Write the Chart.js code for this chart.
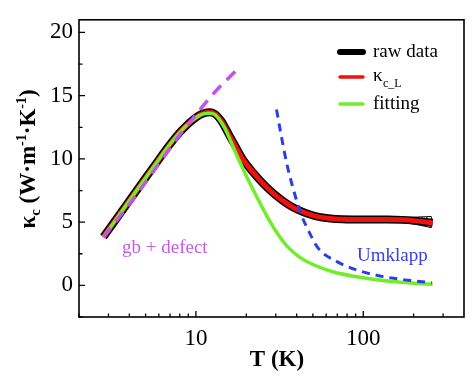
<!DOCTYPE html>
<html>
<head>
<meta charset="utf-8">
<script src="https://cdn.jsdelivr.net/npm/chart.js@4.4.1/dist/chart.umd.min.js"></script>
<style>
html, body { margin: 0; padding: 0; background: #fff; }
canvas { display: block; }
</style>
</head>
<body>
<canvas id="kappa" width="474" height="387"></canvas>
<script>
// ---- data ----
const tempK   = [2.8, 3.2, 3.6, 4.15, 5, 5.74, 6.5, 7.23, 8, 8.71, 9.5, 10.47, 11.2, 12.03, 13, 14, 15, 16, 17.4, 19, 21.9, 25, 28.9, 33, 38.2, 44, 50.4, 57, 63.5, 75, 90, 110, 140, 170, 200, 230, 260];
const rawData = [3.83, 4.9, 5.85, 7.0, 8.5, 9.6, 10.6, 11.4, 12.1, 12.6, 13.05, 13.45, 13.62, 13.68, 13.55, 13.1, 12.45, 11.75, 10.9, 10.0, 8.95, 8.1, 7.3, 6.7, 6.15, 5.78, 5.52, 5.37, 5.29, 5.23, 5.21, 5.2, 5.2, 5.18, 5.12, 5.03, 4.95];
const kappaL  = [3.83, 4.9, 5.85, 7.0, 8.5, 9.6, 10.6, 11.4, 12.1, 12.6, 13.05, 13.45, 13.62, 13.68, 13.55, 13.1, 12.45, 11.75, 10.9, 10.0, 8.95, 8.1, 7.3, 6.7, 6.15, 5.78, 5.52, 5.37, 5.29, 5.23, 5.21, 5.2, 5.2, 5.18, 5.12, 5.03, 4.95];

// error bars on the raw data at high T
const errT     = [150, 165, 180, 195, 210, 225, 240, 255];
const errUpper = [5.3, 5.33, 5.36, 5.38, 5.4, 5.42, 5.43, 5.45];
const errLower = [5.1, 5.02, 4.95, 4.87, 4.8, 4.72, 4.64, 4.56];

const fitT    = [2.8, 3.2, 3.6, 4.15, 5, 5.74, 6.5, 7.23, 8, 8.71, 9.5, 10.47, 11.2, 12.03, 13, 14, 15, 16, 17.4, 20, 23, 26.5, 30, 35, 42, 50, 65, 100, 150, 200, 260];
const fitting = [3.83, 4.9, 5.85, 7.0, 8.5, 9.6, 10.6, 11.4, 12.1, 12.6, 13.05, 13.42, 13.58, 13.62, 13.5, 13.0, 12.35, 11.5, 10.4, 8.65, 7.05, 5.5, 4.3, 3.1, 2.2, 1.65, 1.1, 0.6, 0.3, 0.17, 0.08];

const umklappT = [30.3, 32.5, 34.8, 38.2, 42.7, 46, 53.7, 69.3, 90, 120, 170, 257];
const umklapp  = [13.9, 11.7, 9.7, 7.6, 5.55, 4.6, 2.95, 1.9, 1.25, 0.8, 0.47, 0.2];

const gbT      = [2.8, 4.15, 6, 8, 10, 13, 17.4];
const gbDefect = [3.8, 6.7, 9.6, 11.9, 13.5, 15.3, 17.0];

const xMajorTicks = [10, 100];
const xMinorTicks = [2, 3, 4, 5, 6, 7, 8, 9, 20, 30, 40, 50, 60, 70, 80, 90, 200, 300];
const yMajorTicks = [0, 5, 10, 15, 20];
const yMinorTicks = [-2.5, 2.5, 7.5, 12.5, 17.5];

const serif = '"Liberation Serif", "Times New Roman", serif';

function pts(xs, ys) {
    return xs.map((t, i) => ({ x: t, y: ys[i] }));
}

// error bar stems, drawn under the red curve
const errorBars = {
    id: 'errorBars',
    beforeDatasetsDraw(chart) {
        const { ctx, scales: { x, y } } = chart;
        ctx.save();
        ctx.strokeStyle = '#000';
        ctx.lineWidth = 1;
        ctx.beginPath();
        errT.forEach((t, i) => {
            const px = x.getPixelForValue(t);
            ctx.moveTo(px, y.getPixelForValue(errUpper[i]));
            ctx.lineTo(px, y.getPixelForValue(errLower[i]));
        });
        ctx.stroke();
        ctx.restore();
    }
};

// frame, inward ticks, axis titles, legend, labels
const extras = {
    id: 'extras',
    afterDraw(chart) {
        const { ctx, chartArea: a, scales: { x, y } } = chart;
        ctx.save();

        ctx.strokeStyle = '#000';
        ctx.lineWidth = 1.6;
        ctx.strokeRect(a.left, a.top, a.right - a.left, a.bottom - a.top);

        ctx.lineWidth = 1.3;
        ctx.beginPath();
        xMajorTicks.forEach(v => { const p = x.getPixelForValue(v); ctx.moveTo(p, a.bottom); ctx.lineTo(p, a.bottom - 6); });
        xMinorTicks.forEach(v => { const p = x.getPixelForValue(v); ctx.moveTo(p, a.bottom); ctx.lineTo(p, a.bottom - 3.5); });
        yMajorTicks.forEach(v => { const p = y.getPixelForValue(v); ctx.moveTo(a.left, p); ctx.lineTo(a.left + 6, p); });
        yMinorTicks.forEach(v => { const p = y.getPixelForValue(v); ctx.moveTo(a.left, p); ctx.lineTo(a.left + 3.5, p); });
        ctx.stroke();

        // x title
        ctx.fillStyle = '#000';
        ctx.font = 'bold 23px ' + serif;
        ctx.textAlign = 'center';
        ctx.textBaseline = 'middle';
        ctx.fillText('T (K)', 277, 360);

        // y title, rotated, with sub/superscripts
        const parts = [
            { t: 'κ', s: 23, dy: 0 },
            { t: 'c', s: 15, dy: 5 },
            { t: ' (W·m', s: 23, dy: 0 },
            { t: '-1', s: 14, dy: -9 },
            { t: '·K', s: 23, dy: 0 },
            { t: '-1', s: 14, dy: -9 },
            { t: ')', s: 23, dy: 0 }
        ];
        ctx.save();
        ctx.translate(27, 159);
        ctx.rotate(-Math.PI / 2);
        ctx.textAlign = 'left';
        ctx.textBaseline = 'alphabetic';
        let total = 0;
        parts.forEach(p => { ctx.font = 'bold ' + p.s + 'px ' + serif; p.w = ctx.measureText(p.t).width; total += p.w; });
        let cx = -total / 2;
        parts.forEach(p => {
            ctx.font = 'bold ' + p.s + 'px ' + serif;
            ctx.fillText(p.t, cx, 8 + p.dy);
            cx += p.w;
        });
        ctx.restore();

        // legend
        const rows = [52, 77, 104];
        ctx.lineCap = 'round';
        chart.data.datasets.slice(0, 3).forEach((ds, i) => {
            ctx.strokeStyle = ds.borderColor;
            ctx.lineWidth = i === 0 ? 6 : 3.5;
            ctx.beginPath();
            ctx.moveTo(340, rows[i]);
            ctx.lineTo(363, rows[i]);
            ctx.stroke();
        });
        ctx.fillStyle = '#000';
        ctx.textAlign = 'left';
        ctx.textBaseline = 'middle';
        ctx.font = '19px ' + serif;
        ctx.fillText('raw data', 373, rows[0]);
        ctx.fillText('κ', 373, rows[1] - 1);
        ctx.font = '12px ' + serif;
        ctx.fillText('c_L', 383, rows[1] + 7);
        ctx.font = '19px ' + serif;
        ctx.fillText('fitting', 373, rows[2]);

        // curve labels
        ctx.font = '19px ' + serif;
        ctx.fillStyle = '#c65ce6';
        ctx.fillText('gb + defect', 122, 248);
        ctx.fillStyle = '#3a3ee0';
        ctx.fillText('Umklapp', 357, 256);

        ctx.restore();
    }
};

const ctx = document.getElementById('kappa');

new Chart(ctx, {
    type: 'line',
    data: {
        datasets: [{
            label: 'raw data',
            data: pts(tempK, rawData),
            borderColor: '#000000',
            borderWidth: 8,
            order: 5
        },
        {
            label: 'κc_L',
            data: pts(tempK, kappaL),
            borderColor: '#f01010',
            borderWidth: 5,
            order: 4
        },
        {
            label: 'fitting',
            data: pts(fitT, fitting),
            borderColor: '#70ee2a',
            borderWidth: 3.5,
            order: 3
        },
        {
            label: 'Umklapp',
            data: pts(umklappT, umklapp),
            borderColor: '#2a3ee8',
            borderWidth: 3,
            borderDash: [8, 6],
            order: 2
        },
        {
            label: 'gb + defect',
            data: pts(gbT, gbDefect),
            borderColor: '#c452e8',
            borderWidth: 3.5,
            borderDash: [12, 8],
            order: 1
        },
        {
            label: 'err upper',
            data: pts(errT, errUpper),
            borderColor: '#000000',
            borderWidth: 1,
            order: 6
        },
        {
            label: 'err lower',
            data: pts(errT, errLower),
            borderColor: '#000000',
            borderWidth: 1,
            order: 6
        }]
    },
    options: {
        responsive: false,
        animation: false,
        elements: {
            point: { radius: 0 },
            line: { cubicInterpolationMode: 'monotone', borderCapStyle: 'butt', borderJoinStyle: 'round' }
        },
        layout: { padding: { top: 14, right: 10, left: 0, bottom: 0 } },
        plugins: {
            legend: { display: false },
            tooltip: { enabled: false }
        },
        scales: {
            x: {
                type: 'logarithmic',
                min: 2,
                max: 400,
                grid: { display: false, drawTicks: false },
                border: { display: false },
                afterBuildTicks: s => { s.ticks = xMajorTicks.map(v => ({ value: v })); },
                afterFit: s => { s.height = 70; },
                ticks: {
                    autoSkip: false,
                    maxRotation: 0,
                    padding: 8,
                    color: '#000',
                    font: { family: serif, size: 23 },
                    callback: v => String(v)
                }
            },
            y: {
                type: 'linear',
                min: -2.5,
                max: 21,
                grid: { display: false, drawTicks: false },
                border: { display: false },
                afterBuildTicks: s => { s.ticks = yMajorTicks.map(v => ({ value: v })); },
                afterFit: s => { s.width = 79; },
                ticks: {
                    padding: 6,
                    color: '#000',
                    font: { family: serif, size: 23 },
                    callback: v => String(v)
                }
            }
        }
    },
    plugins: [errorBars, extras]
});
</script>
</body>
</html>
